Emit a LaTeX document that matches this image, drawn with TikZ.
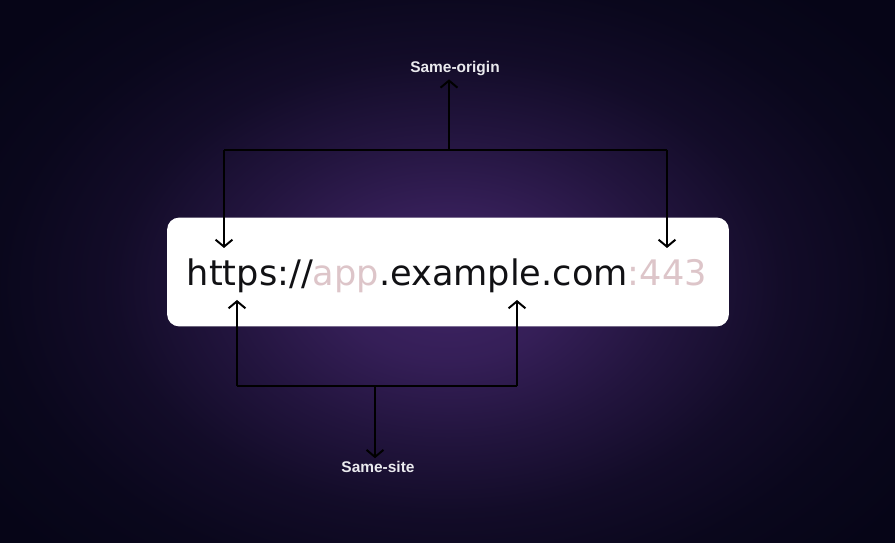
\documentclass[tikz,border=0pt]{standalone}
\usepackage{fontspec}
\setmainfont{DejaVu Sans}
\newfontfamily\tagfont{Liberation Sans}
\usetikzlibrary{arrows.meta}
\definecolor{bgInner}{RGB}{63,36,101}
\definecolor{bgOuter}{RGB}{6,5,23}
\definecolor{urlPink}{RGB}{221,197,201}
\definecolor{urlInk}{RGB}{17,17,20}
\definecolor{labelGray}{RGB}{234,234,238}
\pgfdeclareradialshading{glow}{\pgfpoint{0bp}{0bp}}{%
  color(0bp)=(bgInner); color(5bp)=(bgInner!82!bgOuter);
  color(10bp)=(bgInner!50!bgOuter); color(15bp)=(bgInner!22!bgOuter);
  color(20bp)=(bgInner!7!bgOuter); color(25bp)=(bgOuter); color(50bp)=(bgOuter)}
\tikzset{
  urlbox/.style={fill=white, rounded corners=0.3cm, minimum width=14.04cm,
    minimum height=2.72cm, inner sep=0pt},
  urltext/.style={text=urlInk, inner sep=0pt, font=\fontsize{25}{30}\selectfont},
  tag/.style={text=labelGray, font=\tagfont\fontsize{11}{13}\selectfont\bfseries, inner sep=2pt},
  bracket/.style={line width=1.4pt, black},
  link/.style={bracket, -{Straight Barb[length=5pt, width=12pt, line width=1.4pt]}}
}
\begin{document}
\begin{tikzpicture}[x=0.025cm, y=-0.025cm]
  % background
  \useasboundingbox (0,0) rectangle (895,543);
  \fill [bgOuter] (0,0) rectangle (895,543);
  \begin{scope}
    \clip (0,0) rectangle (895,543);
    \shade [shading=glow] (448,285) ellipse (560 and 380);
  \end{scope}

  \node [urlbox] (url) at (448,272) {};
  \node [urltext] (address) at ([xshift=-0.03cm, yshift=-0.1cm]url.center)
    {https://\textcolor{urlPink}{app}.example.com\textcolor{urlPink}{:443}};
  \node [tag] (origin) at (455,69) {Same-origin};
  \node [tag] (site) at (378,467) {Same-site};

  % same-origin bracket
  \coordinate (oL) at (224,150);
  \coordinate (oR) at (667,150);
  \coordinate (oM) at (449,150);
  \coordinate (oLtip) at (224,248);
  \coordinate (oRtip) at (667,248);
  \draw [bracket] (oL) -- (oR);
  \draw [link] (oL) -- (oLtip);
  \draw [link] (oR) -- (oRtip);
  \draw [link] (oM) -- (oM |- origin.south);

  % same-site bracket
  \coordinate (sL) at (237,386);
  \coordinate (sR) at (517,386);
  \coordinate (sM) at (375,386);
  \coordinate (sLtip) at (237,300);
  \coordinate (sRtip) at (517,300);
  \draw [bracket] (sL) -- (sR);
  \draw [link] (sL) -- (sLtip);
  \draw [link] (sR) -- (sRtip);
  \draw [link] (sM) -- (sM |- site.north);
\end{tikzpicture}
\end{document}
